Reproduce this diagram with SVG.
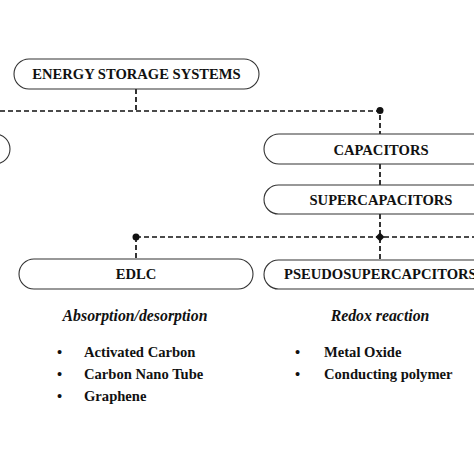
<svg xmlns="http://www.w3.org/2000/svg" width="474" height="474" viewBox="0 0 474 474">
<style>
.box{fill:#fff;stroke:#333;stroke-width:1.1}
.t{font-family:"Liberation Serif","Times New Roman",serif;font-weight:bold;font-size:14.6px;fill:#111;text-anchor:middle}
.i{font-family:"Liberation Serif","Times New Roman",serif;font-weight:bold;font-style:italic;font-size:15.8px;fill:#111;text-anchor:middle}
.l{font-family:"Liberation Serif","Times New Roman",serif;font-weight:bold;font-size:14.6px;fill:#111}
.c{fill:none;stroke:#111;stroke-width:1.7;stroke-dasharray:5 3}
</style>
<rect width="474" height="474" fill="#fff"/>
<g id="connectors">
<path class="c" d="M136 89 V111"/>
<path class="c" d="M0 111 H380 V134"/>
<path class="c" d="M380 164 V186"/>
<path class="c" d="M380 214 V260"/>
<path class="c" d="M136 237 H474"/>
<path class="c" d="M136 237 V259"/>
<circle cx="380" cy="110.5" r="3.5" fill="#111"/>
<circle cx="136" cy="237" r="3.5" fill="#111"/>
<path d="M380 232.5 L384.5 237 L380 241.5 L375.5 237 Z" fill="#111"/>
</g>
<g id="ess">
<rect class="box" x="14" y="59" width="245" height="30" rx="15"/>
<text class="t" x="136.5" y="79">ENERGY STORAGE SYSTEMS</text>
</g>
<g id="left-node">
<rect class="box" x="-120" y="134" width="130" height="30" rx="15"/>
</g>
<g id="capacitors">
<rect class="box" x="264" y="134" width="240" height="30" rx="15"/>
<text class="t" x="381" y="155">CAPACITORS</text>
</g>
<g id="supercapacitors">
<rect class="box" x="264" y="185" width="240" height="29" rx="14.5"/>
<text class="t" x="381" y="205">SUPERCAPACITORS</text>
</g>
<g id="edlc">
<rect class="box" x="19" y="259" width="234" height="30" rx="15"/>
<text class="t" x="136" y="279">EDLC</text>
<text class="i" x="135" y="321">Absorption/desorption</text>
<text class="l" x="57" y="357">•</text>
<text class="l" x="84" y="357">Activated Carbon</text>
<text class="l" x="57" y="379">•</text>
<text class="l" x="84" y="379">Carbon Nano Tube</text>
<text class="l" x="57" y="401">•</text>
<text class="l" x="84" y="401">Graphene</text>
</g>
<g id="pseudo">
<rect class="box" x="264" y="260" width="240" height="29" rx="14.5"/>
<text class="l" x="284" y="279">PSEUDOSUPERCAPCITORS</text>
<text class="i" x="380" y="321">Redox reaction</text>
<text class="l" x="295" y="357">•</text>
<text class="l" x="324" y="357">Metal Oxide</text>
<text class="l" x="295" y="379">•</text>
<text class="l" x="324" y="379">Conducting polymer</text>
</g>
</svg>
